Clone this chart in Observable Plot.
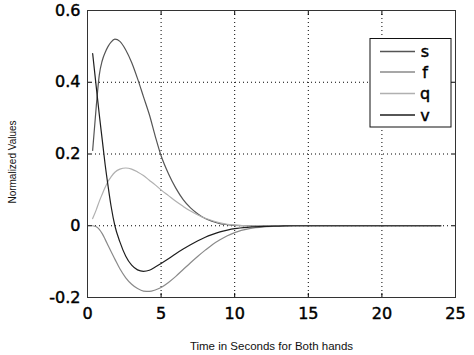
<!DOCTYPE html>
<html>
<head>
<meta charset="utf-8">
<script src="https://cdn.jsdelivr.net/npm/d3@7"></script>
<script src="https://cdn.jsdelivr.net/npm/@observablehq/plot@0.6"></script>
<style>
  html, body { margin: 0; padding: 0; background: #fff; }
  .boldlbl text { stroke: #000; stroke-width: 0.45px; }
</style>
</head>
<body>
<div id="chart"></div>
<script>
const time = [0.35, 0.6, 0.8, 1.0, 1.2, 1.4, 1.6, 1.86, 2.2, 2.6, 3.0, 3.4, 3.8, 4.2, 4.6, 5.0, 5.5, 6.0, 6.5, 7.0, 7.5, 8.0, 8.5, 9.0, 9.5, 10, 11, 12, 13, 14, 16, 18, 20, 22, 24];
const sValues = [0.21, 0.335, 0.42, 0.46, 0.483, 0.5, 0.512, 0.52, 0.514, 0.49, 0.455, 0.41, 0.36, 0.31, 0.25, 0.195, 0.145, 0.105, 0.073, 0.05, 0.033, 0.02, 0.012, 0.006, 0.003, 0.001, 0, 0, 0, 0, 0, 0, 0, 0, 0];
const fValues = [0.0, -0.003, -0.01, -0.022, -0.038, -0.055, -0.072, -0.093, -0.12, -0.145, -0.163, -0.175, -0.182, -0.183, -0.179, -0.172, -0.158, -0.141, -0.122, -0.103, -0.085, -0.068, -0.052, -0.039, -0.028, -0.019, -0.008, -0.003, -0.001, 0, 0, 0, 0, 0, 0];
const qValues = [0.02, 0.045, 0.068, 0.088, 0.107, 0.124, 0.136, 0.149, 0.158, 0.161, 0.158, 0.15, 0.14, 0.127, 0.114, 0.1, 0.084, 0.068, 0.054, 0.041, 0.03, 0.021, 0.014, 0.008, 0.004, 0.002, 0, 0, 0, 0, 0, 0, 0, 0, 0];
const vValues = [0.48, 0.385, 0.31, 0.24, 0.17, 0.11, 0.055, 0.0, -0.045, -0.085, -0.11, -0.123, -0.127, -0.124, -0.115, -0.105, -0.092, -0.078, -0.065, -0.053, -0.042, -0.032, -0.024, -0.017, -0.012, -0.008, -0.004, -0.002, -0.001, 0, 0, 0, 0, 0, 0];
const seriesNames = ["s", "f", "q", "v"];
const seriesColors = ["#555555", "#8a8a8a", "#b0b0b0", "#1e1e1e"];
const xTicks = [0, 5, 10, 15, 20, 25];
const yTicks = [-0.2, 0, 0.2, 0.4, 0.6];
const xLabel = "Time in Seconds for Both hands";
const yLabel = "Normalized Values";

const allValues = [sValues, fValues, qValues, vValues];
const rows = [];
seriesNames.forEach((name, i) => {
  time.forEach((t, j) => rows.push({t, value: allValues[i][j], series: name}));
});

const tickFont = "DejaVu Sans, sans-serif";
const labelFont = "Liberation Sans, Arial, sans-serif";

const plot = Plot.plot({
  width: 474,
  height: 355,
  marginLeft: 87,
  marginRight: 19,
  marginTop: 10,
  marginBottom: 58,
  style: {fontFamily: tickFont, fontSize: "16px", color: "#000", background: "#fff", overflow: "visible"},
  x: {type: "linear", domain: [0, 25]},
  y: {type: "linear", domain: [-0.2, 0.6]},
  color: {domain: seriesNames, range: seriesColors},
  marks: [
    Plot.ruleX(xTicks.filter(d => d > 0 && d < 25), {stroke: "#000", strokeWidth: 1, strokeDasharray: "1,3"}),
    Plot.ruleY(yTicks.filter(d => d > -0.2 && d < 0.6), {stroke: "#000", strokeWidth: 1, strokeDasharray: "1,3"}),
    Plot.axisX(xTicks, {tickSize: 0, tickPadding: 10, label: null, fontSize: 16, className: "boldlbl", tickFormat: d => String(d)}),
    Plot.axisY(yTicks, {tickSize: 0, tickPadding: 7, label: null, fontSize: 16, className: "boldlbl", tickFormat: d => d === 0 ? "0" : d.toFixed(1)}),
    Plot.axisY(yTicks, {anchor: "right", tickSize: -4, label: null, tickFormat: () => ""}),
    Plot.axisX(xTicks, {anchor: "top", tickSize: -4, label: null, tickFormat: () => ""}),
    Plot.axisX(xTicks, {anchor: "bottom", tickSize: -4, label: null, tickFormat: () => ""}),
    Plot.axisY(yTicks, {anchor: "left", tickSize: -4, label: null, tickFormat: () => ""}),
    Plot.line(rows, {x: "t", y: "value", z: "series", stroke: "series", strokeWidth: 1.2, curve: "monotone-x"}),
    Plot.frame({stroke: "#333", strokeWidth: 1}),
    Plot.text([xLabel], {frameAnchor: "bottom", dy: 52, fontSize: 11.5, fontFamily: labelFont, fill: "#111"})
  ]
});
document.getElementById("chart").appendChild(plot);

const svg = d3.select(plot);
// Rotated y-axis title
svg.append("text")
  .attr("transform", "translate(12,162) rotate(-90)")
  .attr("text-anchor", "middle")
  .attr("dy", "0.35em")
  .attr("font-family", labelFont)
  .attr("font-size", 10)
  .attr("fill", "#111")
  .text(yLabel);

// Legend box (MATLAB-style, top right inside the axes)
const lg = svg.append("g").attr("class", "legend boldlbl");
const bx = 370, by = 38.5, bw = 81, bh = 88.5;
lg.append("rect").attr("x", bx).attr("y", by).attr("width", bw).attr("height", bh)
  .attr("fill", "#fff").attr("stroke", "#111").attr("stroke-width", 1);
const rowY = [51.5, 72, 93.5, 115];
seriesNames.forEach((name, i) => {
  lg.append("line").attr("x1", bx + 10).attr("x2", bx + 45)
    .attr("y1", rowY[i]).attr("y2", rowY[i])
    .attr("stroke", seriesColors[i]).attr("stroke-width", 1.4);
  lg.append("text").attr("x", bx + 55).attr("y", rowY[i]).attr("dy", "0.35em")
    .attr("font-family", tickFont).attr("font-size", 16).attr("fill", "#000")
    .text(name);
});
</script>
</body>
</html>
